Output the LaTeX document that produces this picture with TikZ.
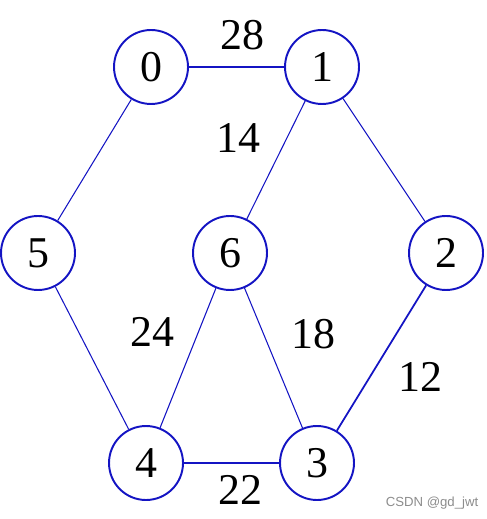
\documentclass[tikz,border=0pt]{standalone}
\usepackage{fontspec}
\setmainfont{Liberation Serif}
\newfontfamily\wmfont{Liberation Sans}
\usepackage{tikz}
\usetikzlibrary{positioning}
\definecolor{vblue}{RGB}{20, 20, 195}
\definecolor{wmgray}{RGB}{140, 140, 140}

\begin{document}
\begin{tikzpicture}[
    x=0.02cm, y=-0.02cm,
    vertex/.style={draw=vblue, circle, line width=1.1pt, minimum size=1.48cm, inner sep=0pt, font=\fontsize{25}{30}\selectfont},
    wlabel/.style={font=\fontsize{25}{30}\selectfont, inner sep=0pt},
    edge/.style={draw=vblue, line width=0.6pt}
]
\useasboundingbox (0,0) rectangle (486,519);

% Vertices
\node[vertex] (v0) at (151, 67) {0};
\node[vertex] (v1) at (322, 67) {1};
\node[vertex] (v5) at (38, 253) {5};
\node[vertex] (v6) at (230, 253) {6};
\node[vertex] (v2) at (446, 253) {2};
\node[vertex] (v4) at (146, 463) {4};
\node[vertex] (v3) at (317, 463) {3};

% Edges
\draw[edge] (v0) -- (v1);
\draw[edge] (v0) -- (v5);
\draw[edge] (v1) -- (v6);
\draw[edge] (v1) -- (v2);
\draw[edge] (v5) -- (v4);
\draw[edge] (v6) -- (v4);
\draw[edge] (v6) -- (v3);
\draw[edge, line width=1pt] (v2) -- (v3);
\draw[edge] (v4) -- (v3);

% Weights
\node[wlabel] (w01) at (242, 35) {28};
\node[wlabel] (w16) at (238, 138) {14};
\node[wlabel] (w46) at (152, 332) {24};
\node[wlabel] (w36) at (313, 334) {18};
\node[wlabel] (w23) at (420, 377) {12};
\node[wlabel] (w34) at (240, 490) {22};

% Watermark
\node[font=\wmfont\fontsize{7.5}{9}\selectfont, text=wmgray, inner sep=0pt] (wm) at (432, 503) {CSDN @gd\_jwt};
\end{tikzpicture}
\end{document}
